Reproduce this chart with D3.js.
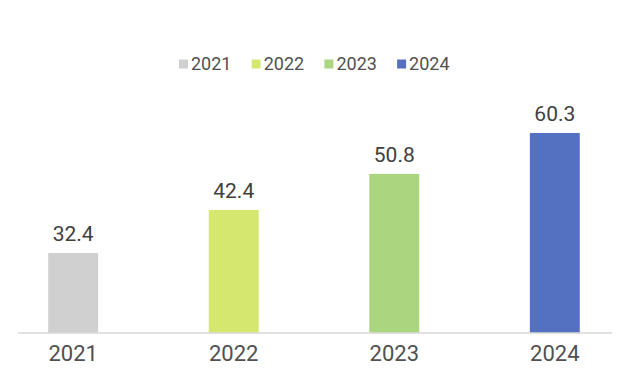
<!DOCTYPE html>
<html>
<head>
<meta charset="utf-8">
<script src="https://cdn.jsdelivr.net/npm/d3@7"></script>
<style>
  body { margin: 0; background: #fff; }
  svg { display: block; font-family: Roboto, "Noto Sans", sans-serif; }
</style>
</head>
<body>
<script>
var years = ["2021", "2022", "2023", "2024"];
var values = [32.4, 42.4, 50.8, 60.3];
var colors = ["#d0d0d0", "#d6e76f", "#abd57f", "#5470c1"];

var width = 640, height = 384;

var svg = d3.select("body").append("svg")
  .attr("width", width)
  .attr("height", height);

var x = d3.scaleBand()
  .domain(years)
  .range([-7, 635])
  .paddingInner(0.689)
  .paddingOuter(0.344);

var y = d3.scaleLinear()
  .domain([13.8, 70])
  .range([333, 91.3]);

// bars
svg.selectAll(".bar")
  .data(values)
  .enter().append("rect")
  .attr("class", "bar")
  .attr("x", function(d, i) { return x(years[i]); })
  .attr("width", x.bandwidth())
  .attr("y", function(d) { return y(d); })
  .attr("height", function(d) { return y.range()[0] - y(d); })
  .attr("fill", function(d, i) { return colors[i]; });

// value labels
svg.selectAll(".val")
  .data(values)
  .enter().append("text")
  .attr("class", "val")
  .attr("x", function(d, i) { return x(years[i]) + x.bandwidth() / 2; })
  .attr("y", function(d) { return y(d) - 12; })
  .attr("text-anchor", "middle")
  .attr("font-size", 21)
  .attr("fill", "#404040")
  .text(function(d) { return d.toFixed(1); });

// x axis
var xAxis = svg.append("g")
  .attr("transform", "translate(0,333)")
  .call(d3.axisBottom(x).tickSize(0).tickPadding(12));
xAxis.select(".domain").remove();
xAxis.append("line")
  .attr("x1", 18).attr("x2", 612)
  .attr("stroke", "#d9d9d9").attr("stroke-width", 1.5);
xAxis.selectAll("text")
  .attr("font-size", 22)
  .attr("font-family", "Roboto, sans-serif")
  .attr("fill", "#505050")
  .attr("dy", "0.71em");

// legend
var legend = svg.append("g").attr("transform", "translate(179,64)");
var item = legend.selectAll(".item")
  .data(years)
  .enter().append("g")
  .attr("class", "item")
  .attr("transform", function(d, i) { return "translate(" + (i * 72.7) + ",0)"; });
item.append("rect")
  .attr("x", 0).attr("y", -4.5)
  .attr("width", 9).attr("height", 9)
  .attr("fill", function(d, i) { return colors[i]; });
item.append("text")
  .attr("x", 12)
  .attr("dy", "0.35em")
  .attr("font-size", 18)
  .attr("fill", "#505050")
  .text(function(d) { return d; });
</script>
</body>
</html>
